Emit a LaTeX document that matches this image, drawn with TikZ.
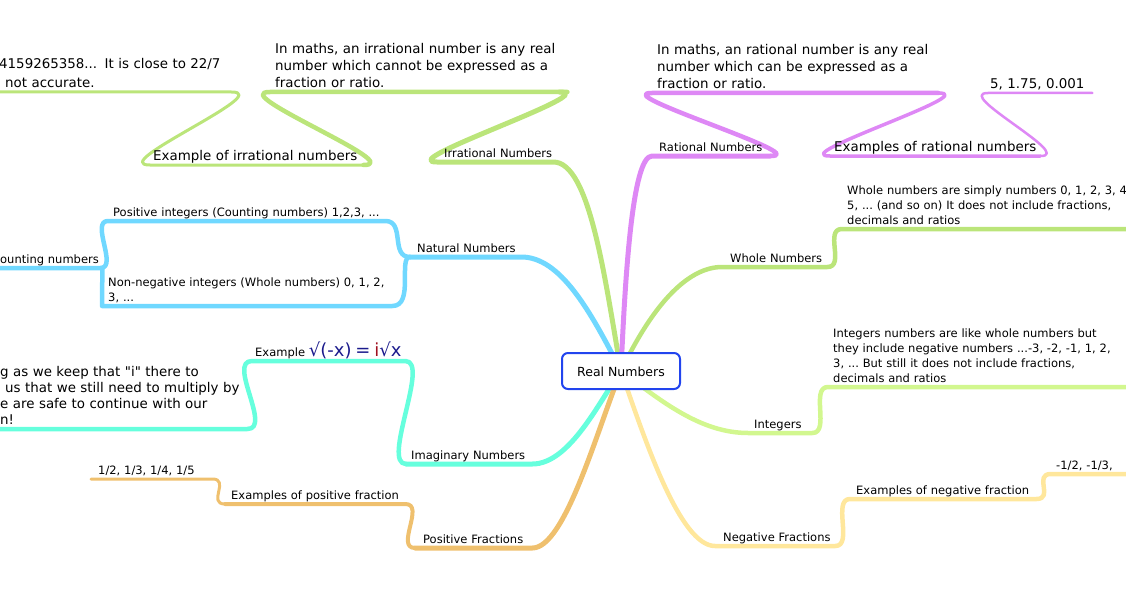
\documentclass[tikz,border=0pt]{standalone}
\usepackage{fontspec}
\usetikzlibrary{backgrounds}
\setmainfont{DejaVu Sans}
\newfontfamily\straightquote{DejaVu Sans}
\definecolor{irrgreen}{HTML}{BBE57A}
\definecolor{natblue}{HTML}{70D8FF}
\definecolor{imagteal}{HTML}{66FFDD}
\definecolor{posorange}{HTML}{EFC06E}
\definecolor{ratviolet}{HTML}{DE88F5}
\definecolor{wholegreen}{HTML}{BBE57A}
\definecolor{intgreen}{HTML}{D2F78F}
\definecolor{negyellow}{HTML}{FFE79C}
\definecolor{rootblue}{HTML}{2244EE}
\definecolor{formblue}{HTML}{1A1A8C}
\definecolor{formred}{HTML}{A01020}
\begin{document}
\begin{tikzpicture}[
	x = 1pt, y = -1pt,
	every node/.style = {inner xsep = 0pt, inner ysep = 0pt, anchor = south west, align = left, execute at end node = \rule[-4.3pt]{0pt}{4.3pt}},
	every path/.style = {line cap = round, line join = round},
	small/.style = {font = \fontsize{11.5}{15}\selectfont\frenchspacing},
	large/.style = {font = \fontsize{13.4}{17}\selectfont\frenchspacing},
	]
	\useasboundingbox (0,0) rectangle (1126,591);

	\node[small, text width = 109pt] (irrational) at (444,162) {Irrational Numbers};
	\node[large, text width = 292pt] (irrnote) at (275,92) {In maths, an irrational number is any real\\number which cannot be expressed as a\\fraction or ratio.};
	\node[large, text width = 210pt] (irrexample) at (153,165) {Example of irrational numbers};
	\node[large, text width = 232pt, font = \fontsize{13.4}{19}\selectfont\frenchspacing] (pinote) at (-1,92) {4159265358...\hspace{3pt} It is close to 22/7\\\hspace*{6pt}not accurate.};

	\node[small, text width = 104pt] (natural) at (417,257) {Natural Numbers};
	\node[small, text width = 272pt] (positive) at (113,221) {Positive integers (Counting numbers) 1,2,3, ...};
	\node[small, text width = 284pt] (nonneg) at (108,306) {Non-negative integers (Whole numbers) 0, 1, 2,\\3, ...};
	\node[small, text width = 100pt] (counting) at (0,268) {ounting numbers};

	\node[small, text width = 121pt] (imaginary) at (411,464) {Imaginary Numbers};
	\node[small, text width = 150pt] (imagexample) at (255,361) {Example \textcolor{formblue}{\fontsize{18}{18}\selectfont √(-x) = \textcolor{formred}{i}√x}};
	\node[large, text width = 247pt, font = \fontsize{13.4}{16}\selectfont] (imagnote) at (0,429) {g as we keep that {\straightquote"}i{\straightquote"} there to\\\hspace*{5pt}us that we still need to multiply by\\e are safe to continue with our\\n!};

	\node[small, text width = 109pt] (posfrac) at (423,548) {Positive Fractions};
	\node[small, text width = 174pt] (posexample) at (231,504) {Examples of positive fraction};
	\node[small, text width = 114pt] (posvalues) at (98,479) {1/2, 1/3, 1/4, 1/5};

	\node[small, text width = 111pt] (rational) at (659,156) {Rational Numbers};
	\node[large, text width = 281pt] (ratnote) at (657,93) {In maths, an rational number is any real\\number which can be expressed as a\\fraction or ratio.};
	\node[large, text width = 206pt] (ratexample) at (834,156) {Examples of rational numbers};
	\node[large, text width = 102pt] (ratvalues) at (990,93) {5, 1.75, 0.001};

	\node[small, text width = 97pt] (whole) at (730,267) {Whole Numbers};
	\node[small, text width = 285pt] (wholenote) at (847,229) {Whole numbers are simply numbers 0, 1, 2, 3, 4\\5, ... (and so on) It does not include fractions,\\decimals and ratios};

	\node[small, text width = 58pt] (integers) at (754,433) {Integers};
	\node[small, text width = 300pt] (intnote) at (833,387) {Integers numbers are like whole numbers but\\they include negative numbers ...-3, -2, -1, 1, 2,\\3, ... But still it does not include fractions,\\decimals and ratios};

	\node[small, text width = 112pt] (negfrac) at (723,546) {Negative Fractions};
	\node[small, text width = 180pt] (negexample) at (856,499) {Examples of negative fraction};
	\node[small, text width = 75pt] (negvalues) at (1056,474) {-1/2, -1/3,};

	\node[draw = rootblue, fill = white, line width = 2pt, rounded corners = 6pt, minimum width = 118pt, minimum height = 36pt, anchor = center, align = center, text height = 10pt, text depth = 0pt, font = \fontsize{12.5}{15}\selectfont] (root) at (621,371) {Real Numbers};

	\begin{pgfonlayer}{background}
		\draw[irrgreen, line width = 5pt] (root.center) .. controls (605,280) and (590,162) .. (irrational.south east) -- ([xshift = -7pt]irrational.south west) .. controls +(-45,0) and +(45,0) .. ([xshift = -8pt]irrnote.south east);
		\draw[irrgreen, line width = 4.5pt] (irrnote.south east) -- ([xshift = -5pt]irrnote.south west) .. controls +(-45,0) and +(45,0) .. (irrexample.south east);
		\draw[irrgreen, line width = 3pt] (irrexample.south east) -- ([xshift = -3pt]irrexample.south west) .. controls +(-45,0) and +(45,0) .. (pinote.south east) -- (pinote.south west);

		\draw[natblue, line width = 5pt] (root.center) .. controls (590,310) and (560,257) .. (natural.south east) -- ([xshift = -7pt]natural.south west);
		\draw[natblue, line width = 4.5pt] ([xshift = -7pt]natural.south west) .. controls +(-20,0) and +(20,0) .. (positive.south east) -- ([xshift = -5pt]positive.south west) .. controls +(-18,0) and +(18,0) .. (counting.south east) -- (counting.south west);
		\draw[natblue, line width = 4.5pt] ([xshift = -7pt]natural.south west) .. controls +(-12,0) and +(22,0) .. (nonneg.south east) -- ([xshift = -6pt]nonneg.south west) -- ([xshift = 2pt]counting.south east);

		\draw[imagteal, line width = 5pt] (root.center) .. controls (600,400) and (570,464) .. (imaginary.south east) -- ([xshift = -5pt]imaginary.south west);
		\draw[imagteal, line width = 4.5pt] ([xshift = -5pt]imaginary.south west) .. controls +(-25,0) and +(25,0) .. (imagexample.south east) -- ([xshift = -3pt]imagexample.south west) .. controls +(-25,0) and +(25,0) .. (imagnote.south east) -- (imagnote.south west);

		\draw[posorange, line width = 5pt] (root.center) .. controls (597,430) and (565,548) .. (posfrac.south east) -- ([xshift = -8pt]posfrac.south west);
		\draw[posorange, line width = 4pt] ([xshift = -8pt]posfrac.south west) .. controls +(-20,0) and +(20,0) .. (posexample.south east) -- ([xshift = -6pt]posexample.south west);
		\draw[posorange, line width = 3pt] ([xshift = -6pt]posexample.south west) .. controls +(-18,0) and +(18,0) .. (posvalues.south east) -- ([xshift = -7pt]posvalues.south west);

		\draw[ratviolet, line width = 5pt] (root.center) .. controls (625,280) and (632,156) .. ([xshift = -7pt]rational.south west) -- (rational.south east);
		\draw[ratviolet, line width = 4.5pt] (rational.south east) .. controls +(45,0) and +(-45,0) .. ([xshift = -5pt]ratnote.south west) -- (ratnote.south east);
		\draw[ratviolet, line width = 3.5pt] (ratnote.south east) .. controls +(45,0) and +(-45,0) .. ([xshift = -4pt]ratexample.south west) -- (ratexample.south east);
		\draw[ratviolet, line width = 2.5pt] (ratexample.south east) .. controls +(35,0) and +(-35,0) .. ([xshift = -2pt]ratvalues.south west) -- (ratvalues.south east);

		\draw[wholegreen, line width = 4.5pt] (root.center) .. controls (655,300) and (690,267) .. ([xshift = -8pt]whole.south west) -- (whole.south east) .. controls +(18,0) and +(-18,0) .. ([xshift = -5pt]wholenote.south west) -- (wholenote.south east);

		\draw[intgreen, line width = 4.5pt] (root.center) .. controls (660,400) and (700,433) .. ([xshift = -6pt]integers.south west) -- (integers.south east) .. controls +(18,0) and +(-18,0) .. ([xshift = -5pt]intnote.south west) -- (intnote.south east);

		\draw[negyellow, line width = 4.5pt] (root.center) .. controls (645,440) and (680,546) .. ([xshift = -8pt]negfrac.south west) -- (negfrac.south east) .. controls +(18,0) and +(-18,0) .. ([xshift = -6pt]negexample.south west) -- (negexample.south east) .. controls +(18,0) and +(-18,0) .. ([xshift = -5pt]negvalues.south west) -- (negvalues.south east);
	\end{pgfonlayer}
\end{tikzpicture}
\end{document}
